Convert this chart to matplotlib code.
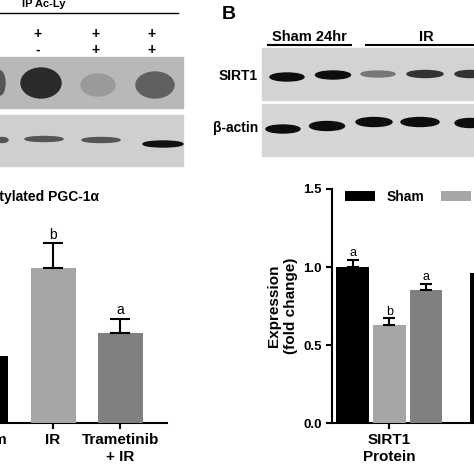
import matplotlib.pyplot as plt
from matplotlib.patches import Rectangle, Ellipse

plt.rcParams['font.family'] = ['Liberation Sans', 'DejaVu Sans']

# panel A bars (cropped)
a_groups = ['Sham', 'IR', 'Trametinib\n+ IR']
a_values = [0.43, 1.0, 0.58]
a_errors = [0.0, 0.156, 0.09]
a_letters = ['', 'b', 'a']
a_colors = ['black', '#a6a6a6', '#808080']

# panel B bars
b_groups = ['SIRT1\nProtein', '']
b_series = ['Sham', 'IR', 'IR + Trametinib']
b_values = {'Sham': [1.0, 0.96], 'IR': [0.63, 0.6], 'IR + Trametinib': [0.855, 0.85]}
b_errors = {'Sham': [0.045, 0.04], 'IR': [0.04, 0.04], 'IR + Trametinib': [0.035, 0.04]}
b_letters = {'Sham': ['a', ''], 'IR': ['b', ''], 'IR + Trametinib': ['a', '']}
b_colors = {'Sham': 'black', 'IR': '#a6a6a6', 'IR + Trametinib': '#808080'}

W = H = 474
fig = plt.figure(figsize=(4.74, 4.74), dpi=100)

# background layer in pixel coordinates for blots and labels
bg = fig.add_axes([0, 0, 1, 1])
bg.set_xlim(0, W)
bg.set_ylim(H, 0)
bg.axis('off')

def blot(x0, y0, w, h, bands, shade='#c8c8c8'):
    bg.add_patch(Rectangle((x0, y0), w, h, color=shade, zorder=1))
    for cx, cy, bw, bh, c in bands:
        bg.add_patch(Ellipse((cx, cy), bw, bh, color=c, zorder=2))

blot(0, 57, 183, 51, [(0, 83, 10, 24, '#555555'), (41, 83, 40, 30, '#2a2a2a'),
                      (98, 85, 34, 22, '#9a9a9a'), (155, 85, 38, 26, '#606060')], '#b8b8b8')
blot(0, 115, 183, 51, [(2, 140, 12, 5, '#555555'), (44, 139, 38, 5, '#555555'),
                       (101, 140, 38, 5, '#555555'), (163, 144, 40, 6, '#111111')], '#cfcfcf')
blot(262, 48, 212, 52, [(287, 77, 34, 8, '#0d0d0d'), (333, 75, 35, 8, '#0d0d0d'),
                        (378, 74, 34, 6, '#777777'), (425, 74, 36, 7, '#333333'),
                        (470, 74, 30, 7, '#333333')], '#d3d3d3')
blot(262, 104, 212, 52, [(283, 129, 34, 8, '#0d0d0d'), (327, 126, 35, 9, '#0d0d0d'),
                         (374, 122, 36, 9, '#0d0d0d'), (420, 122, 38, 9, '#0d0d0d'),
                         (470, 123, 30, 9, '#0d0d0d')], '#d6d6d6')

bg.plot([0, 178], [13, 13], color='black', lw=1)
bg.text(22, 9, 'IP Ac-Ly', fontsize=8, fontweight='bold', va='bottom')
for x, ys in [(38, ['+', '-']), (96, ['+', '+']), (152, ['+', '+'])]:
    bg.text(x, 34, ys[0], fontsize=10, fontweight='bold', ha='center', va='center')
    bg.text(x, 50, ys[1], fontsize=10, fontweight='bold', ha='center', va='center')
bg.text(222, 14, 'B', fontsize=14, fontweight='bold', va='center')
bg.plot([268, 351], [45, 45], color='black', lw=1.5)
bg.plot([366, 474], [45, 45], color='black', lw=1.5)
bg.text(309, 37, 'Sham 24hr', fontsize=10.5, fontweight='bold', ha='center', va='center')
bg.text(426, 37, 'IR', fontsize=10.5, fontweight='bold', ha='center', va='center')
bg.text(258, 76, 'SIRT1', fontsize=10, fontweight='bold', ha='right', va='center')
bg.text(258, 128, 'β-actin', fontsize=10, fontweight='bold', ha='right', va='center')
bg.text(99, 197, 'Acetylated PGC-1α', fontsize=10, fontweight='bold', ha='right', va='center')

def frac(x0, y0, x1, y1):
    return [x0 / W, 1 - y1 / H, (x1 - x0) / W, (y1 - y0) / H]

# panel A axes (extends off the left edge)
ax1 = fig.add_axes(frac(-80, 190, 167, 423))
ax1.patch.set_alpha(0)
ax1.bar(range(3), a_values, width=0.67, color=a_colors, zorder=3)
for i, (v, e, l) in enumerate(zip(a_values, a_errors, a_letters)):
    if e:
        ax1.errorbar(i, v, yerr=[[0], [e]], color='black', capsize=7, lw=1.5, capthick=1.5, zorder=4)
        ax1.text(i, v + e + 0.01, l, ha='center', va='bottom', fontsize=10)
ax1.set_ylim(0, 1.5)
ax1.set_xlim(-0.985, 2.70)
ax1.set_xticks(range(3))
ax1.set_xticklabels(a_groups, fontsize=11, fontweight='bold')
ax1.set_yticks([])
for s in ['top', 'right', 'left']:
    ax1.spines[s].set_visible(False)
ax1.spines['bottom'].set_linewidth(1.5)
ax1.tick_params(axis='x', width=1.5, length=4)

# panel B axes (extends off the right edge)
ax2 = fig.add_axes(frac(332, 189, 620, 423))
ax2.patch.set_alpha(0)
bw = 0.245
for j, s in enumerate(b_series):
    xs = [g + (j - 1) * (bw + 0.03) for g in range(len(b_groups))]
    ax2.bar(xs, b_values[s], width=bw, color=b_colors[s], label=s, zorder=3)
    ax2.errorbar(xs, b_values[s], yerr=[[0] * 2, b_errors[s]], fmt='none', ecolor='black',
                 capsize=4, lw=1.5, capthick=1.5, zorder=4)
    for x, v, e, l in zip(xs, b_values[s], b_errors[s], b_letters[s]):
        if l:
            ax2.text(x, v + e + 0.005, l, ha='center', va='bottom', fontsize=9)
ax2.set_ylim(0, 1.5)
ax2.set_xlim(-0.43, 1.73)
ax2.set_xticks(range(2))
ax2.set_xticklabels(b_groups, fontsize=11, fontweight='bold')
ax2.set_yticks([0, 0.5, 1.0, 1.5])
ax2.set_yticklabels(['0.0', '0.5', '1.0', '1.5'], fontsize=9.5, fontweight='bold')
ax2.set_ylabel('Expression\n(fold change)', fontsize=11, fontweight='bold')
for s in ['top', 'right']:
    ax2.spines[s].set_visible(False)
for s in ['bottom', 'left']:
    ax2.spines[s].set_linewidth(1.5)
ax2.tick_params(width=1.5, length=4)
ax2.legend(loc='upper left', bbox_to_anchor=(0.0, 1.05), ncol=3, frameon=False,
           prop={'weight': 'bold', 'size': 10}, handlelength=2.2, columnspacing=1.2)

fig.savefig('out.png', dpi=100)
